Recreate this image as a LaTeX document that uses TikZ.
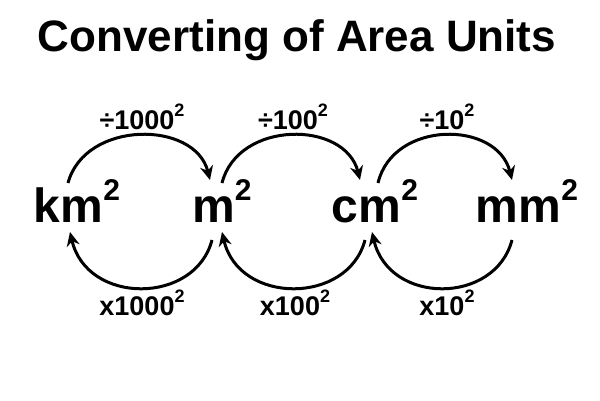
\documentclass[tikz,border=0pt]{standalone}
\usepackage{fontspec}
\setmainfont{Liberation Sans}
\usetikzlibrary{arrows.meta}
\begin{document}
\begin{tikzpicture}[x=1pt,y=-1pt,
  unit/.style={font=\fontsize{48}{48}\selectfont\bfseries,inner sep=0pt},
  lbl/.style={font=\fontsize{27}{27}\selectfont\bfseries,inner sep=0pt},
  arc/.style={line width=3pt,-{Stealth[length=14pt,width=13pt]}}]
\useasboundingbox (0,0) rectangle (600,400);
\node[font=\fontsize{44}{44}\selectfont\bfseries] (title) at (297,40) {Converting of Area Units};
\node[unit] (km) at (77,201) {km\raisebox{0.45em}{\fontsize{30}{30}\selectfont 2}};
\node[unit] (m) at (222,201) {m\raisebox{0.45em}{\fontsize{30}{30}\selectfont 2}};
\node[unit] (cm) at (375,201) {cm\raisebox{0.45em}{\fontsize{30}{30}\selectfont 2}};
\node[unit] (mm) at (527,201) {mm\raisebox{0.45em}{\fontsize{30}{30}\selectfont 2}};
\coordinate (a1) at (68,183); \coordinate (b1) at (210,180);
\coordinate (a2) at (222,183); \coordinate (b2) at (360,180);
\coordinate (a3) at (378,183); \coordinate (b3) at (512,180);
\coordinate (c1) at (212,240); \coordinate (d1) at (70,232);
\coordinate (c2) at (365,240); \coordinate (d2) at (222,232);
\coordinate (c3) at (512,240); \coordinate (d3) at (372,232);
\draw[arc] (a1) .. controls (85,120) and (195,120) .. (b1);
\draw[arc] (a2) .. controls (238,120) and (345,120) .. (b2);
\draw[arc] (a3) .. controls (393,120) and (497,120) .. (b3);
\draw[arc] (c1) .. controls (195,305) and (87,305) .. (d1);
\draw[arc] (c2) .. controls (348,305) and (239,305) .. (d2);
\draw[arc] (c3) .. controls (495,305) and (389,305) .. (d3);
\node[lbl] (t1) at (142,117) {÷1000\raisebox{0.5em}{\fontsize{18}{18}\selectfont 2}};
\node[lbl] (t2) at (293,117) {÷100\raisebox{0.5em}{\fontsize{18}{18}\selectfont 2}};
\node[lbl] (t3) at (447,117) {÷10\raisebox{0.5em}{\fontsize{18}{18}\selectfont 2}};
\node[lbl] (u1) at (142,303) {x1000\raisebox{0.5em}{\fontsize{18}{18}\selectfont 2}};
\node[lbl] (u2) at (295,303) {x100\raisebox{0.5em}{\fontsize{18}{18}\selectfont 2}};
\node[lbl] (u3) at (447,303) {x10\raisebox{0.5em}{\fontsize{18}{18}\selectfont 2}};
\end{tikzpicture}
\end{document}
